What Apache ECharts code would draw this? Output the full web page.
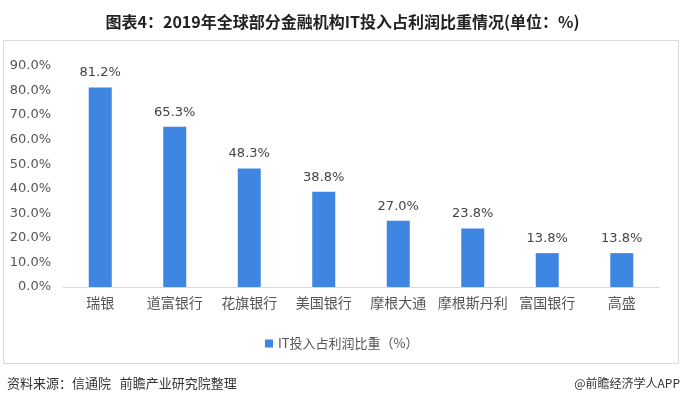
<!DOCTYPE html>
<html>
<head>
<meta charset="utf-8">
<script src="https://cdn.jsdelivr.net/npm/echarts@6/dist/echarts.min.js"></script>
<style>
  html, body { margin: 0; padding: 0; background: #fff; }
  #chart { width: 685px; height: 407px; }
</style>
</head>
<body>
<div id="chart"></div>
<script>
// data
const banks = ["瑞银", "道富银行", "花旗银行", "美国银行", "摩根大通", "摩根斯丹利", "富国银行", "高盛"];
const itShare = [81.2, 65.3, 48.3, 38.8, 27.0, 23.8, 13.8, 13.8];
const seriesName = "IT投入占利润比重（%）";

const chart = echarts.init(document.getElementById("chart"));

chart.setOption({
    animation: false,
    title: {
        text: "图表4：2019年全球部分金融机构IT投入占利润比重情况(单位：%)",
        left: "center",
        top: 9,
        textStyle: {
            fontFamily: "Liberation Sans Narrow, Noto Sans CJK SC",
            fontSize: 16,
            fontWeight: "bold",
            color: "#222"
        }
    },
    graphic: [
        {
            type: "rect",
            shape: { x: 3.5, y: 40.5, width: 675, height: 323 },
            style: { fill: "none", stroke: "#d9d9d9", lineWidth: 1 }
        },
        {
            type: "text",
            left: 7, top: 377,
            style: { text: "资料来源：信通院   前瞻产业研究院整理", fontSize: 13, fill: "#333", fontFamily: "Noto Sans CJK SC" }
        },
        {
            type: "text",
            right: 5, top: 377,
            style: { text: "@前瞻经济学人APP", fontSize: 12, fill: "#333", fontFamily: "Noto Sans CJK SC" }
        }
    ],
    legend: {
        data: [seriesName],
        left: 260,
        top: 332,
        itemWidth: 8,
        itemHeight: 8,
        itemGap: 4,
        icon: "rect",
        textStyle: { fontSize: 13, color: "#555", fontFamily: "Noto Sans CJK SC" }
    },
    grid: { left: 63, right: 26, top: 66, bottom: 120, containLabel: false },
    xAxis: {
        type: "category",
        data: banks,
        axisLine: { lineStyle: { color: "#d9d9d9" } },
        axisTick: { show: false },
        axisLabel: { fontSize: 14, color: "#555", margin: 9, interval: 0, fontFamily: "Noto Sans CJK SC" }
    },
    yAxis: {
        type: "value",
        min: 0, max: 90, interval: 10,
        axisLine: { show: false },
        axisTick: { show: false },
        splitLine: { show: false },
        axisLabel: {
            fontSize: 13, color: "#555", margin: 12,
            fontFamily: "DejaVu Sans, Verdana",
            formatter: v => v.toFixed(1) + "%"
        }
    },
    series: [{
        name: seriesName,
        type: "bar",
        data: itShare,
        barWidth: 23,
        itemStyle: { color: "#3e86e1" },
        label: {
            show: true, position: "top", distance: 8,
            fontSize: 13, color: "#444",
            fontFamily: "DejaVu Sans, Verdana",
            formatter: p => p.value.toFixed(1) + "%"
        }
    }]
});
</script>
</body>
</html>
